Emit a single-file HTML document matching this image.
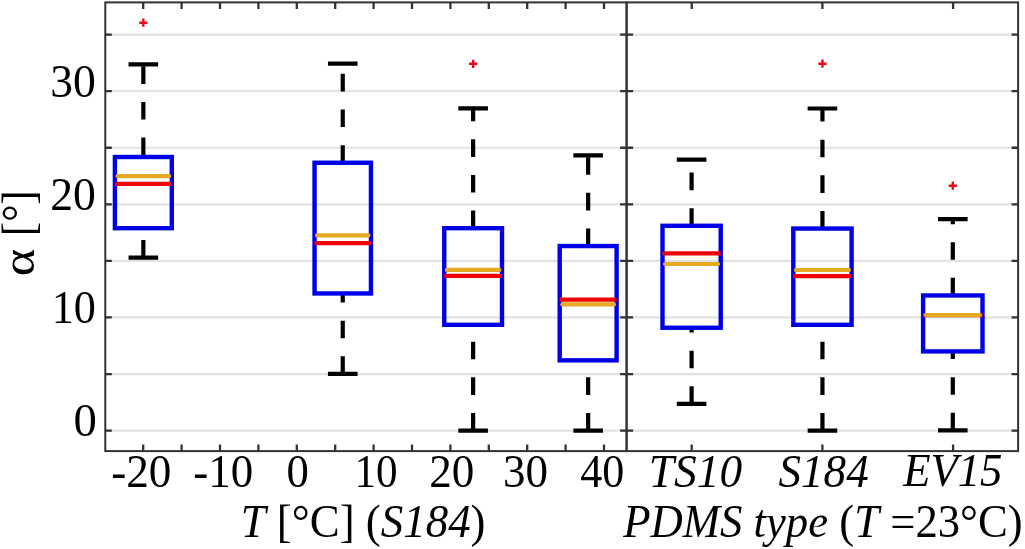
<!DOCTYPE html>
<html><head><meta charset="utf-8"><style>
html,body{margin:0;padding:0;background:#fff;}
body{width:1025px;height:549px;overflow:hidden;}
svg{display:block;}
.t{font-family:"Liberation Serif","Times New Roman",serif;font-size:46px;fill:#000;}
.i{font-style:italic;}
</style></head><body>
<svg width="1025" height="549" viewBox="0 0 1025 549">
<rect width="1025" height="549" fill="#fff"/>
<line x1="105.3" y1="430.60" x2="1018.1" y2="430.60" stroke="#e2e2e2" stroke-width="2.2"/>
<line x1="105.3" y1="374.03" x2="1018.1" y2="374.03" stroke="#e2e2e2" stroke-width="2.2"/>
<line x1="105.3" y1="317.46" x2="1018.1" y2="317.46" stroke="#e2e2e2" stroke-width="2.2"/>
<line x1="105.3" y1="260.89" x2="1018.1" y2="260.89" stroke="#e2e2e2" stroke-width="2.2"/>
<line x1="105.3" y1="204.32" x2="1018.1" y2="204.32" stroke="#e2e2e2" stroke-width="2.2"/>
<line x1="105.3" y1="147.75" x2="1018.1" y2="147.75" stroke="#e2e2e2" stroke-width="2.2"/>
<line x1="105.3" y1="91.18" x2="1018.1" y2="91.18" stroke="#e2e2e2" stroke-width="2.2"/>
<line x1="105.3" y1="34.61" x2="1018.1" y2="34.61" stroke="#e2e2e2" stroke-width="2.2"/>
<line x1="143.35" y1="157.0" x2="143.35" y2="64.4" stroke="#000" stroke-width="4.2" stroke-dasharray="17.6 18.05" stroke-dashoffset="-1.8"/>
<line x1="143.35" y1="257.6" x2="143.35" y2="228.2" stroke="#000" stroke-width="4.2" stroke-dasharray="17.6 18.05"/>
<path d="M128.55 64.4H158.15M128.55 257.6H158.15" stroke="#000" stroke-width="4.2"/>
<rect x="114.9" y="157.0" width="56.90" height="71.20" fill="none" stroke="#0000e8" stroke-width="4.4"/>
<line x1="114.9" y1="183.85" x2="171.8" y2="183.85" stroke="#f00000" stroke-width="4.2"/>
<line x1="117.50" y1="176.05" x2="169.20" y2="176.05" stroke="#e6aa22" stroke-width="4.2" stroke-linecap="round"/>
<path d="M139.25 22.7H147.45M143.35 18.60V26.80" stroke="#ec0a1a" stroke-width="2.4" fill="none"/>
<line x1="342.75" y1="162.75" x2="342.75" y2="63.7" stroke="#000" stroke-width="4.2" stroke-dasharray="17.6 18.05" stroke-dashoffset="0"/>
<line x1="342.75" y1="373.9" x2="342.75" y2="293.45" stroke="#000" stroke-width="4.2" stroke-dasharray="17.6 18.05"/>
<path d="M327.95 63.7H357.55M327.95 373.9H357.55" stroke="#000" stroke-width="4.2"/>
<rect x="314.55" y="162.75" width="56.40" height="130.70" fill="none" stroke="#0000e8" stroke-width="4.4"/>
<line x1="314.55" y1="243.15" x2="370.95" y2="243.15" stroke="#f00000" stroke-width="4.2"/>
<line x1="317.15" y1="235.4" x2="368.35" y2="235.4" stroke="#e6aa22" stroke-width="4.2" stroke-linecap="round"/>
<line x1="473.12" y1="228.2" x2="473.12" y2="108.4" stroke="#000" stroke-width="4.2" stroke-dasharray="17.6 18.05" stroke-dashoffset="0"/>
<line x1="473.12" y1="430.6" x2="473.12" y2="324.8" stroke="#000" stroke-width="4.2" stroke-dasharray="17.6 18.05"/>
<path d="M458.32 108.4H487.93M458.32 430.6H487.93" stroke="#000" stroke-width="4.2"/>
<rect x="444.25" y="228.2" width="57.75" height="96.60" fill="none" stroke="#0000e8" stroke-width="4.4"/>
<line x1="444.25" y1="275.9" x2="502.0" y2="275.9" stroke="#f00000" stroke-width="4.2"/>
<line x1="446.85" y1="269.9" x2="499.40" y2="269.9" stroke="#e6aa22" stroke-width="4.2" stroke-linecap="round"/>
<path d="M469.02 63.8H477.23M473.12 59.70V67.90" stroke="#ec0a1a" stroke-width="2.4" fill="none"/>
<line x1="588.15" y1="246.05" x2="588.15" y2="155.3" stroke="#000" stroke-width="4.2" stroke-dasharray="17.6 18.05" stroke-dashoffset="0"/>
<line x1="588.15" y1="430.6" x2="588.15" y2="360.35" stroke="#000" stroke-width="4.2" stroke-dasharray="17.6 18.05"/>
<path d="M573.35 155.3H602.95M573.35 430.6H602.95" stroke="#000" stroke-width="4.2"/>
<rect x="559.7" y="246.05" width="56.90" height="114.30" fill="none" stroke="#0000e8" stroke-width="4.4"/>
<line x1="559.7" y1="299.6" x2="616.6" y2="299.6" stroke="#f00000" stroke-width="4.2"/>
<line x1="562.30" y1="304.4" x2="614.00" y2="304.4" stroke="#e6aa22" stroke-width="4.2" stroke-linecap="round"/>
<line x1="691.60" y1="225.8" x2="691.60" y2="159.7" stroke="#000" stroke-width="4.2" stroke-dasharray="17.6 18.05" stroke-dashoffset="0"/>
<line x1="691.60" y1="403.9" x2="691.60" y2="327.75" stroke="#000" stroke-width="4.2" stroke-dasharray="17.6 18.05"/>
<path d="M676.80 159.7H706.40M676.80 403.9H706.40" stroke="#000" stroke-width="4.2"/>
<rect x="662.5" y="225.8" width="58.20" height="101.95" fill="none" stroke="#0000e8" stroke-width="4.4"/>
<line x1="662.5" y1="253.4" x2="720.7" y2="253.4" stroke="#f00000" stroke-width="4.2"/>
<line x1="665.10" y1="264.0" x2="718.10" y2="264.0" stroke="#e6aa22" stroke-width="4.2" stroke-linecap="round"/>
<line x1="822.45" y1="228.55" x2="822.45" y2="108.5" stroke="#000" stroke-width="4.2" stroke-dasharray="17.6 18.05" stroke-dashoffset="0"/>
<line x1="822.45" y1="430.6" x2="822.45" y2="324.8" stroke="#000" stroke-width="4.2" stroke-dasharray="17.6 18.05"/>
<path d="M807.65 108.5H837.25M807.65 430.6H837.25" stroke="#000" stroke-width="4.2"/>
<rect x="793.3" y="228.55" width="58.30" height="96.25" fill="none" stroke="#0000e8" stroke-width="4.4"/>
<line x1="793.3" y1="276.1" x2="851.6" y2="276.1" stroke="#f00000" stroke-width="4.2"/>
<line x1="795.90" y1="270.0" x2="849.00" y2="270.0" stroke="#e6aa22" stroke-width="4.2" stroke-linecap="round"/>
<path d="M818.35 63.7H826.55M822.45 59.60V67.80" stroke="#ec0a1a" stroke-width="2.4" fill="none"/>
<line x1="952.80" y1="295.45" x2="952.80" y2="219.2" stroke="#000" stroke-width="4.2" stroke-dasharray="17.6 18.05" stroke-dashoffset="0"/>
<line x1="952.80" y1="430.4" x2="952.80" y2="351.4" stroke="#000" stroke-width="4.2" stroke-dasharray="17.6 18.05"/>
<path d="M938.00 219.2H967.60M938.00 430.4H967.60" stroke="#000" stroke-width="4.2"/>
<rect x="923.1" y="295.45" width="59.40" height="55.95" fill="none" stroke="#0000e8" stroke-width="4.4"/>
<line x1="923.1" y1="315.1" x2="982.5" y2="315.1" stroke="#f00000" stroke-width="4.2"/>
<line x1="925.70" y1="315.0" x2="979.90" y2="315.0" stroke="#e6aa22" stroke-width="4.2" stroke-linecap="round"/>
<path d="M948.70 185.7H956.90M952.80 181.60V189.80" stroke="#ec0a1a" stroke-width="2.4" fill="none"/>
<rect x="105.3" y="2.4" width="521.30" height="448.70" fill="none" stroke="#333333" stroke-width="2"/>
<rect x="626.6" y="2.4" width="391.50" height="448.70" fill="none" stroke="#333333" stroke-width="2"/>
<path d="M105.3 430.60h6.5M626.6 430.60h-6.5M626.6 430.60h6.5M1018.1 430.60h-6.5" stroke="#333333" stroke-width="2.3"/>
<path d="M105.3 374.03h6.5M626.6 374.03h-6.5M626.6 374.03h6.5M1018.1 374.03h-6.5" stroke="#333333" stroke-width="2.3"/>
<path d="M105.3 317.46h6.5M626.6 317.46h-6.5M626.6 317.46h6.5M1018.1 317.46h-6.5" stroke="#333333" stroke-width="2.3"/>
<path d="M105.3 260.89h6.5M626.6 260.89h-6.5M626.6 260.89h6.5M1018.1 260.89h-6.5" stroke="#333333" stroke-width="2.3"/>
<path d="M105.3 204.32h6.5M626.6 204.32h-6.5M626.6 204.32h6.5M1018.1 204.32h-6.5" stroke="#333333" stroke-width="2.3"/>
<path d="M105.3 147.75h6.5M626.6 147.75h-6.5M626.6 147.75h6.5M1018.1 147.75h-6.5" stroke="#333333" stroke-width="2.3"/>
<path d="M105.3 91.18h6.5M626.6 91.18h-6.5M626.6 91.18h6.5M1018.1 91.18h-6.5" stroke="#333333" stroke-width="2.3"/>
<path d="M105.3 34.61h6.5M626.6 34.61h-6.5M626.6 34.61h6.5M1018.1 34.61h-6.5" stroke="#333333" stroke-width="2.3"/>
<path d="M143.20 451.1v-6.5M143.20 2.4v6.5" stroke="#333333" stroke-width="2.3"/>
<path d="M181.60 451.1v-6.5M181.60 2.4v6.5" stroke="#333333" stroke-width="2.3"/>
<path d="M220.00 451.1v-6.5M220.00 2.4v6.5" stroke="#333333" stroke-width="2.3"/>
<path d="M258.40 451.1v-6.5M258.40 2.4v6.5" stroke="#333333" stroke-width="2.3"/>
<path d="M296.80 451.1v-6.5M296.80 2.4v6.5" stroke="#333333" stroke-width="2.3"/>
<path d="M335.20 451.1v-6.5M335.20 2.4v6.5" stroke="#333333" stroke-width="2.3"/>
<path d="M373.60 451.1v-6.5M373.60 2.4v6.5" stroke="#333333" stroke-width="2.3"/>
<path d="M412.00 451.1v-6.5M412.00 2.4v6.5" stroke="#333333" stroke-width="2.3"/>
<path d="M450.40 451.1v-6.5M450.40 2.4v6.5" stroke="#333333" stroke-width="2.3"/>
<path d="M488.80 451.1v-6.5M488.80 2.4v6.5" stroke="#333333" stroke-width="2.3"/>
<path d="M527.20 451.1v-6.5M527.20 2.4v6.5" stroke="#333333" stroke-width="2.3"/>
<path d="M565.60 451.1v-6.5M565.60 2.4v6.5" stroke="#333333" stroke-width="2.3"/>
<path d="M604.00 451.1v-6.5M604.00 2.4v6.5" stroke="#333333" stroke-width="2.3"/>
<path d="M691.70 451.1v-6.5M691.70 2.4v6.5" stroke="#333333" stroke-width="2.3"/>
<path d="M822.40 451.1v-6.5M822.40 2.4v6.5" stroke="#333333" stroke-width="2.3"/>
<path d="M953.10 451.1v-6.5M953.10 2.4v6.5" stroke="#333333" stroke-width="2.3"/>
<text class="t" transform="translate(73.38 435.50) scale(1.0151 1)">0</text>
<text class="t" transform="translate(51.77 322.70) scale(0.9601 1)">10</text>
<text class="t" transform="translate(50.19 209.90) scale(0.9936 1)">20</text>
<text class="t" transform="translate(50.22 97.10) scale(0.9929 1)">30</text>
<text class="t" transform="translate(111.22 486.50) scale(0.9828 1)">-20</text>
<text class="t" transform="translate(193.23 486.50) scale(0.9776 1)">-10</text>
<text class="t" transform="translate(286.60 486.50) scale(0.9727 1)">0</text>
<text class="t" transform="translate(354.46 486.50) scale(0.9380 1)">10</text>
<text class="t" transform="translate(429.22 486.50) scale(0.9815 1)">20</text>
<text class="t" transform="translate(503.04 486.50) scale(0.9787 1)">30</text>
<text class="t" transform="translate(580.23 486.50) scale(0.9587 1)">40</text>
<text class="t i" transform="translate(648.84 487.10) scale(0.9868 1)">TS10</text>
<text class="t i" transform="translate(778.61 486.50) scale(0.9789 1)">S184</text>
<text class="t i" transform="translate(903.19 485.50) scale(0.9713 1)">EV15</text>
<text class="t" transform="translate(240.67 536.80) scale(0.9760 1)"><tspan class="i">T</tspan> [°C] (<tspan class="i">S184</tspan>)</text>
<text class="t" transform="translate(623.18 536.80) scale(0.9722 1)"><tspan class="i">PDMS type</tspan> (<tspan class="i">T</tspan> =23°C)</text>
<text class="t" transform="translate(34.00 276.23) rotate(-90) scale(1.1382 1)">α</text>
<text class="t" transform="translate(34.00 236.21) rotate(-90) scale(0.9372 1)">[°]</text>
</svg>
</body></html>
